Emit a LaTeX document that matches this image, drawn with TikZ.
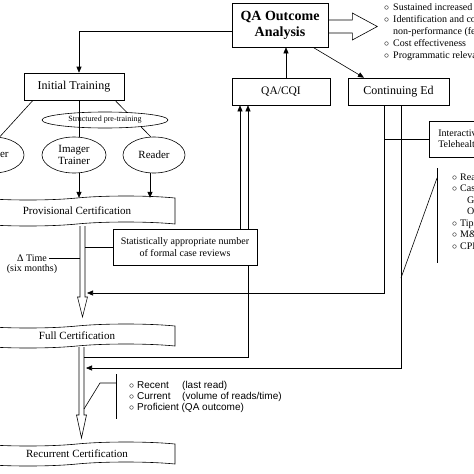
\documentclass[tikz,border=0pt]{standalone}
\usepackage{fontspec}
\setmainfont{Liberation Serif}
\newfontfamily\arialfont{Liberation Sans}
\usetikzlibrary{shapes,arrows.meta,positioning,calc}
\newcommand{\itembul}[1][9pt]{\makebox[#1][l]{$\circ$}}
\tikzset{
    box/.style={rectangle,draw,fill=white,line width=0.6pt,inner sep=2pt},
    oval/.style={ellipse,draw,fill=white,line width=0.6pt,inner sep=0pt,align=center,font=\fontsize{11}{12}\selectfont},
    banner/.style={tape,draw,fill=white,line width=0.6pt,minimum width=196pt,minimum height=24pt,tape bend height=4pt,font=\fontsize{11}{13}\selectfont},
    link/.style={line width=0.6pt},
    arr/.style={link,-{Triangle[length=6pt,width=5pt]}},
    list/.style={anchor=north west,align=left,inner sep=0pt,font=\fontsize{10}{12}\selectfont}
}
\begin{document}
\begin{tikzpicture}[x=1pt,y=-1pt]
    \useasboundingbox (0,0) rectangle (474,474);
    \clip (0,0) rectangle (474,474);
    \fill[white] (0,0) rectangle (474,474);
    % QA outcome box at top
    \node[box,minimum width=96pt,minimum height=44pt,align=center,font=\bfseries\fontsize{14}{16}\selectfont] (qa) at (280,25) {QA Outcome\\Analysis};
    \draw[link] ([yshift=5pt]qa.east) -- ++(24,0) -- ++(0,-7) -- ++(25,13.5) -- ++(-25,13.5) -- ++(0,-7) -- ([yshift=-8pt]qa.east);
    \node[list] (goals) at (384,3) {\itembul Sustained increased accuracy\\
        \itembul Identification and correction of\\
        \hspace*{9pt}non-performance (feedback)\\
        \itembul Cost effectiveness\\
        \itembul Programmatic relevance};
    % training column at left
    \coordinate (colA) at (79,0);
    \node[box,minimum width=100pt,minimum height=27pt,font=\fontsize{12}{14}\selectfont] (init) at (74,86.5) {Initial Training};
    \draw[arr] ([yshift=-6pt]qa.west) -| (init.north -| colA);
    \node[oval,minimum width=62pt,minimum height=36pt] (imager) at (-7,155) {Imager};
    \node[oval,minimum width=64pt,minimum height=36pt] (trainer) at (74,155) {Imager\\Trainer};
    \node[oval,minimum width=62pt,minimum height=36pt] (reader) at (154,155) {Reader};
    \draw[link] ([xshift=-41pt]init.south) -- (imager.70);
    \draw[link] ([xshift=41pt]init.south) -- (reader.100);
    \node[oval,minimum width=126pt,minimum height=16pt,font=\fontsize{8}{9}\selectfont] (pre) at (105,120) {Structured pre-training};
    \draw[link] (init.south -| colA) -- (pre.south -| colA);
    \draw[link] (pre.south -| colA) -- (trainer.north -| colA);
    % certification stages
    \node[banner,minimum height=30pt] (prov) at (77,211) {Provisional Certification};
    \node[banner] (full) at (77,336) {Full Certification};
    \node[banner] (recur) at (77,454) {Recurrent Certification};
    \draw[arr] (trainer.south -| colA) -- (prov.north -| colA);
    \draw[arr] ([xshift=-4pt]reader.south) -- ([xshift=-4pt]reader.south |- prov.north);
    \foreach \cx/\ya/\yb/\yc in {82.5/226/297/317,81.5/347/415/438}
        \draw[link] (\cx-2.5,\ya) -- (\cx-2.5,\yb) -- (\cx-5,\yb) -- (\cx,\yc) -- (\cx+5,\yb) -- (\cx+2.5,\yb) -- (\cx+2.5,\ya);
    \coordinate (s1L) at (80,258);
    \coordinate (s1R) at (85,247);
    \coordinate (s1in) at (87,293);
    \coordinate (s2out) at (84,357);
    \coordinate (s2in) at (86,368);
    \node[inner sep=2pt,font=\fontsize{10}{12}\selectfont] (dtime) at (32,258) {Δ Time};
    \node[inner sep=2pt,font=\fontsize{10}{12}\selectfont] (months) at (32,269) {(six months)};
    \draw[link] (dtime.east) -- (s1L);
    % QA/CQI and continuing education
    \node[box,minimum width=98pt,minimum height=27pt,font=\fontsize{11.5}{13}\selectfont] (qacqi) at (281,91.5) {QA/CQI};
    \node[box,minimum width=101pt,minimum height=27pt,font=\fontsize{12}{14}\selectfont] (cont) at (398.5,91.5) {Continuing Ed};
    \draw[arr] ([xshift=5pt]qacqi.north) -- ([xshift=5pt]qacqi.north |- qa.south);
    \draw[arr] ([xshift=33pt]qa.south) -- ([xshift=-34.5pt]cont.north);
    \draw[arr] (s2out) -| ([xshift=-33pt]qacqi.south);
    \draw[arr] ([xshift=-14.5pt]cont.south) |- (s1in);
    \draw[arr] ([xshift=2.5pt]cont.south) |- (s2in);
    \node[box,minimum width=144pt,minimum height=36pt,align=center,font=\fontsize{10}{12}\selectfont] (stat) at (185,247) {Statistically appropriate number\\of formal case reviews};
    \draw[link] (stat.west) -- (s1R);
    \draw[arr] ([xshift=55pt]stat.north) -- ([xshift=55pt]stat.north |- qacqi.south);
    % telehealth and its list
    \node[box,anchor=west,minimum height=36pt,align=left,inner xsep=9pt,font=\fontsize{10}{11}\selectfont] (tele) at (429,139) {Interactive\\Telehealth};
    \draw[link] (tele.west) -- ++(-45,0);
    \node[list,font=\fontsize{10}{11.5}\selectfont] (media) at (452,173) {\itembul[8pt]Readings\\
        \itembul[8pt]Case reviews\\
        \hspace*{15pt}Good\\
        \hspace*{15pt}Other\\
        \itembul[8pt]Tips\\
        \itembul[8pt]M\&M\\
        \itembul[8pt]CPE};
    \coordinate (brk) at (437,168);
    \draw[link] (brk) -- ++(0,95);
    \draw[link] ([yshift=-10pt]brk) -- ++(-36,100);
    % recertification criteria
    \node[list,font=\arialfont\fontsize{10}{11}\selectfont] (recency) at (129,381) {\itembul[8pt]\makebox[45pt][l]{Recent}(last read)\\
        \itembul[8pt]\makebox[45pt][l]{Current}(volume of reads/time)\\
        \itembul[8pt]Proficient (QA outcome)};
    \coordinate (brk2) at (116,374);
    \draw[link] (brk2) -- ++(0,45);
    \draw[link] (84,409) -- (100,383) -- (116,383);
\end{tikzpicture}
\end{document}
